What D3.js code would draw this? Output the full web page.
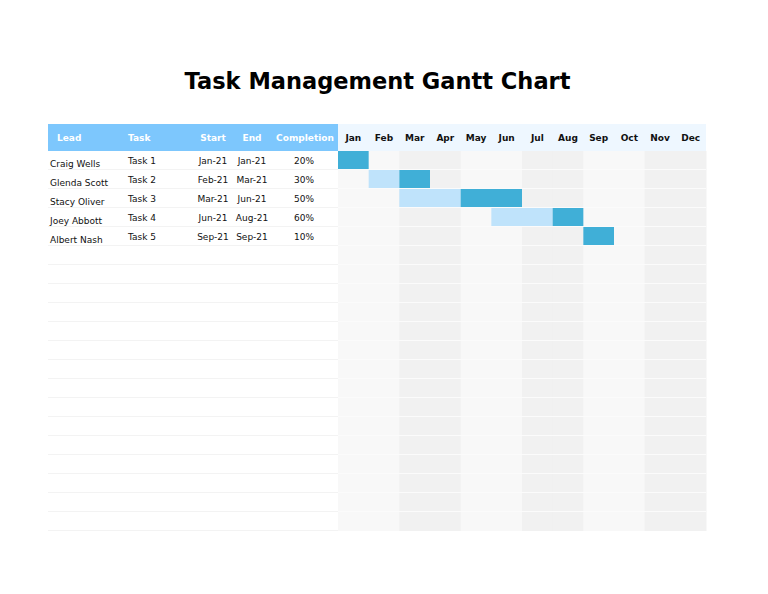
<!DOCTYPE html>
<html><head><meta charset="utf-8">
<script src="https://cdn.jsdelivr.net/npm/d3@7"></script>
<style>body{margin:0;background:#fff;}svg{display:block;font-family:"DejaVu Sans",sans-serif;}</style>
</head><body><svg id="c" width="768" height="594"></svg>
<script>
const title = "Task Management Gantt Chart";
const columns = ["Lead", "Task", "Start", "End", "Completion"];
const months = ["Jan","Feb","Mar","Apr","May","Jun","Jul","Aug","Sep","Oct","Nov","Dec"];
const leads = ["Craig Wells","Glenda Scott","Stacy Oliver","Joey Abbott","Albert Nash"];
const tasks = ["Task 1","Task 2","Task 3","Task 4","Task 5"];
const starts = ["Jan-21","Feb-21","Mar-21","Jun-21","Sep-21"];
const ends = ["Jan-21","Mar-21","Jun-21","Aug-21","Sep-21"];
const completion = ["20%","30%","50%","60%","10%"];
// month indices (0 = Jan): light segment start, dark segment start, end (exclusive)
const lightStart = [0, 1, 2, 5, 8];
const darkStart  = [0, 2, 4, 7, 8];
const barEnd     = [1, 3, 6, 8, 9];
const totalRows = 20;

const svg = d3.select("#c");
const tableX0 = 48, tableX1 = 338, gridX1 = 706;
const headY = 124, headH = 27, rowsY0 = 151, rowH = 19;

svg.append("text").attr("x", 377.5).attr("y", 89).attr("text-anchor","middle")
  .attr("font-size", 22.5).attr("font-weight","bold").attr("fill","#000").text(title);

const x = d3.scaleBand().domain(months).range([tableX1, gridX1]);
const y = d3.scaleBand().domain(d3.range(totalRows)).range([rowsY0, rowsY0 + rowH*totalRows]);

// headers
svg.append("rect").attr("x", tableX0).attr("y", headY).attr("width", tableX1-tableX0).attr("height", headH).attr("fill","#7dc7fd");
svg.append("rect").attr("x", tableX1).attr("y", headY).attr("width", gridX1-tableX1).attr("height", headH).attr("fill","#eef7ff");

const colX = [57, 128, 213, 252, 305];
const colAnchor = ["start","start","middle","middle","middle"];
svg.selectAll(".hd").data(columns).join("text")
  .attr("x",(d,i)=>colX[i]).attr("y", headY+17).attr("text-anchor",(d,i)=>colAnchor[i])
  .attr("font-size", 9).attr("font-weight","bold").attr("fill","#fff").text(d=>d);

svg.selectAll(".mh").data(months).join("text")
  .attr("x", d=>x(d)+x.bandwidth()/2).attr("y", headY+17).attr("text-anchor","middle")
  .attr("font-size", 9).attr("font-weight","bold").attr("fill","#111").text(d=>d);

// grid column backgrounds
svg.selectAll(".colbg").data(months).join("rect")
  .attr("x", d=>x(d)).attr("y", rowsY0).attr("width", x.bandwidth()+0.5).attr("height", rowH*totalRows)
  .attr("fill", (d,i)=> (Math.floor(i/2)%2===1) ? "#f1f1f1" : "#f8f8f8");

// row lines
svg.selectAll(".rl").data(d3.range(1,totalRows+1)).join("line")
  .attr("x1", tableX0).attr("x2", tableX1).attr("y1", d=>rowsY0+d*rowH-0.5).attr("y2", d=>rowsY0+d*rowH-0.5)
  .attr("stroke","#f3f3f3").attr("stroke-width",1);
svg.selectAll(".rl2").data(d3.range(1,totalRows)).join("line")
  .attr("x1", tableX1).attr("x2", gridX1).attr("y1", d=>rowsY0+d*rowH-0.5).attr("y2", d=>rowsY0+d*rowH-0.5)
  .attr("stroke","#fbfbfb").attr("stroke-width",1);

// bars
const bars = svg.append("g");
leads.forEach((l,i)=>{
  if (darkStart[i] > lightStart[i]) {
    bars.append("rect").attr("x", x(months[lightStart[i]])).attr("y", y(i))
      .attr("width", x(months[darkStart[i]]) - x(months[lightStart[i]])).attr("height", rowH-1)
      .attr("fill","#bfe3fb");
  }
  bars.append("rect").attr("x", x(months[darkStart[i]])).attr("y", y(i))
    .attr("width", (barEnd[i]-darkStart[i])*x.bandwidth()).attr("height", rowH-1)
    .attr("fill","#40afd7");
});

// table text
const t = svg.append("g").attr("font-size", 9).attr("fill","#111");
t.selectAll(".ld").data(leads).join("text").attr("x", 50).attr("y",(d,i)=>y(i)+15.5).text(d=>d);
t.selectAll(".tk").data(tasks).join("text").attr("x", 128).attr("y",(d,i)=>y(i)+12.5).text(d=>d);
t.selectAll(".st").data(starts).join("text").attr("x", 213).attr("text-anchor","middle").attr("y",(d,i)=>y(i)+12.5).text(d=>d);
t.selectAll(".en").data(ends).join("text").attr("x", 252).attr("text-anchor","middle").attr("y",(d,i)=>y(i)+12.5).text(d=>d);
t.selectAll(".cp").data(completion).join("text").attr("x", 304).attr("text-anchor","middle").attr("y",(d,i)=>y(i)+12.5).text(d=>d);
</script></body></html>
